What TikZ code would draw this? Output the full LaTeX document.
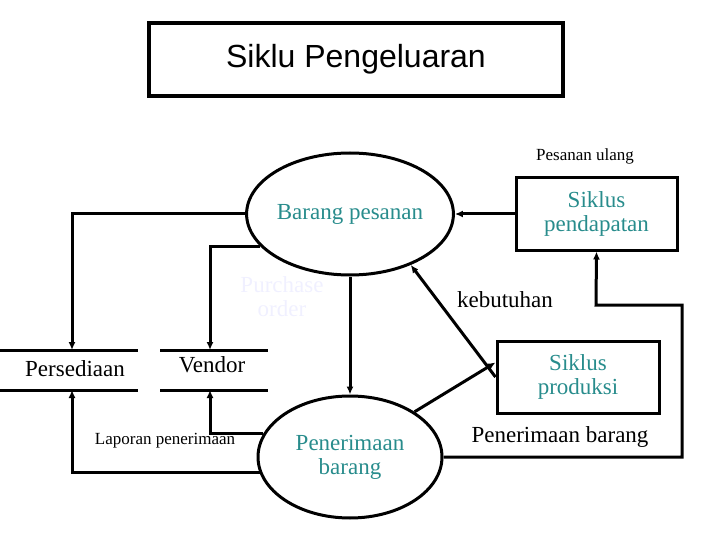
\documentclass[tikz,border=0pt]{standalone}
\usepackage{fontspec}
\setmainfont{Liberation Serif}
\newfontfamily\sansf{Liberation Sans}
\usetikzlibrary{shapes.geometric,arrows.meta}
\definecolor{tl}{RGB}{40,140,140}
\begin{document}
\begin{tikzpicture}[x=1pt,y=-1pt,
  ln/.style={line width=3pt},
  ar/.style={ln,-{Latex[length=8pt,width=7pt]}},
  proc/.style={ellipse,draw,line width=3pt,minimum width=184pt,minimum height=122pt,inner sep=0pt,text=tl,font=\fontsize{23}{24}\selectfont,align=center},
  ent/.style={draw,line width=3pt,inner sep=0pt,text=tl,font=\fontsize{23}{24}\selectfont,align=center},
  lbl/.style={font=\fontsize{23}{24}\selectfont,align=center}]
\useasboundingbox (0,0) rectangle (720,540);
\node[draw,line width=3.5pt,minimum width=414pt,minimum height=73pt,font=\sansf\fontsize{32}{32}\selectfont] (title) at (356,59.5) {Siklu Pengeluaran};
\node[proc] (bp) at (350,214) {Barang pesanan};
\node[proc] (pb) at (350,457) {Penerimaan\\barang};
\node[ent,minimum width=161pt,minimum height=72pt] (sp) at (596.5,214) {Siklus\\pendapatan};
\node[ent,minimum width=162pt,minimum height=72pt] (spr) at (578,377) {Siklus\\produksi};
% stores
\draw[ln] (0,350) -- (138,350) (0,390) -- (138,390);
\draw[ln] (160,350) -- (268,350) (160,390) -- (268,390);
\node[lbl] (pers) at (75,369) {Persediaan};
\node[lbl] (vend) at (212,365) {Vendor};
\coordinate (pt) at (72,350); \coordinate (pbt) at (72,390);
\coordinate (vt) at (210,350); \coordinate (vb) at (210,390);
% labels
\node[font=\fontsize{17}{17}\selectfont] (pu) at (585,156) {Pesanan ulang};
\node[lbl] (keb) at (505,300) {kebutuhan};
\node[lbl,text=blue!6] (po) at (282,297) {Purchase\\order};
\node[font=\fontsize{17}{17}\selectfont] (lp) at (165,441) {Laporan penerimaan};
\node[lbl] (pbl) at (560,437) {Penerimaan barang};
% connectors
\draw[ar] (bp.west) -| (pt);
\draw[ar] (bp.200) -| (vt);
\draw[ar] (bp.south) -- (pb.north);
\draw[ar] (sp.west) -- (bp.east);
\draw[ar] (spr.west) -- (bp.-40);
\draw[ar] (pb.35) -- (spr.170);
\draw[ar] (pb.east) -- (682,457) -- (682,305) -- (596,305) -- (sp.south);
\draw[ar] (pb.190) -| (pbt);
\draw[ar] (pb.165) -| (vb);
\end{tikzpicture}
\end{document}
